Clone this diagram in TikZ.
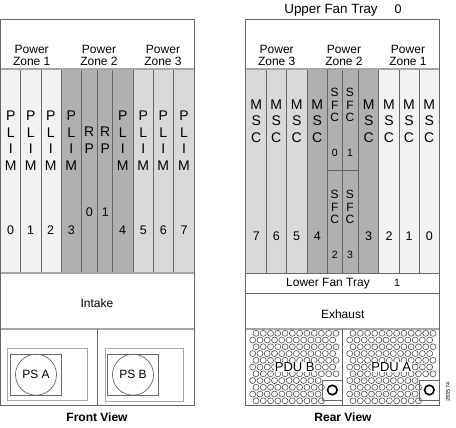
\documentclass[tikz,border=0pt]{standalone}
\usepackage{fontspec}
\setmainfont{Liberation Sans}
\definecolor{zonelight}{gray}{0.95}
\definecolor{zonemid}{gray}{0.85}
\definecolor{zonedark}{gray}{0.69}
\definecolor{linegray}{gray}{0.40}
\tikzset{
  slot/.style={draw=linegray,line width=0.7pt},
  frame/.style={draw=linegray,line width=0.8pt},
  band/.style={draw=gray!70,line width=1.1pt},
  cardtext/.style={font=\fontsize{14}{16.5}\selectfont,align=center,inner sep=0pt},
  smalltext/.style={font=\fontsize{12}{12.5}\selectfont,align=center,inner sep=0pt},
  zonetext/.style={font=\fontsize{12}{12}\selectfont,align=center,inner sep=0pt},
  numtext/.style={font=\fontsize{12.5}{13}\selectfont,inner sep=0pt,text height=9pt,text depth=0pt},
  tinynum/.style={font=\fontsize{10.5}{11}\selectfont,inner sep=0pt,text height=7.5pt,text depth=0pt},
  viewtext/.style={font=\fontsize{12}{13}\selectfont\bfseries,inner sep=0pt},
  pdutext/.style={font=\fontsize{13}{14}\selectfont,fill=white,inner sep=0.5pt},
  ventring/.style={draw=black!70,line width=0.6pt}
}
\begin{document}
\begin{tikzpicture}[x=1pt,y=-1pt]
\useasboundingbox (0,0) rectangle (456,428);
% front view slots
\foreach \xa/\xb/\shade in {0.5/20.5/zonelight,20.5/41/zonelight,41/61.5/zonelight,
  61.5/81.5/zonedark,81.5/97.5/zonedark,97.5/112.5/zonedark,112.5/133/zonedark,
  133/153.5/zonemid,153.5/173.5/zonemid,173.5/194/zonemid}
  \draw[slot,fill=\shade] (\xa,69) rectangle (\xb,273);
\draw[frame] (0.5,19) rectangle (194,405);
\draw[band] (0.5,69) -- (194,69);
\draw[band] (0.5,273) -- (194,273);
\draw[band] (0.5,329) -- (194,329);
\draw[frame] (97.5,329) -- (97.5,405);
\node[zonetext] (fzone1) at (31.7,55) {Power\\Zone 1};
\node[zonetext] (fzone2) at (99,55) {Power\\Zone 2};
\node[zonetext] (fzone3) at (163,55) {Power\\Zone 3};
\foreach \x/\n/\num in {10.7/a/0,30.7/b/1,50.7/c/2,71.3/d/3,122.7/e/4,143.3/f/5,163.3/g/6,184/h/7}{
  \node[cardtext] (plim\n) at (\x,140.5) {P\\L\\I\\M};
  \node[numtext] (plimnum\n) at (\x,229.7) {\num};
}
\node[cardtext] (rpa) at (89.3,140) {R\\P};
\node[cardtext] (rpb) at (105.3,140) {R\\P};
\node[numtext] (rpnuma) at (89.3,212) {0};
\node[numtext] (rpnumb) at (105.3,212) {1};
\node[zonetext] (intake) at (97,303) {Intake};
% power supplies
\draw[band,line width=1pt] (7.7,348) rectangle (87,400.7);
\draw[slot] (10,354) rectangle (61.5,395);
\node[draw=linegray,circle,minimum size=41pt,inner sep=0pt,line width=0.7pt,font=\fontsize{12}{12}\selectfont] (psa) at (36,374.7) {PS A};
\draw[band,line width=1pt] (105,348.5) rectangle (183.5,401.5);
\draw[slot] (107.5,354) rectangle (158.5,395);
\node[draw=linegray,circle,minimum size=41pt,inner sep=0pt,line width=0.7pt,font=\fontsize{12}{12}\selectfont] (psb) at (133,374.7) {PS B};
\node[viewtext] (frontview) at (97,417.7) {Front View};
% rear view slots
\foreach \xa/\xb/\shade in {245.7/266.7/zonemid,266.7/286.7/zonemid,286.7/307.3/zonemid,
  307.3/327.7/zonedark,327.7/342.7/zonedark,342.7/358.7/zonedark,358.7/378.7/zonedark,
  378.7/399.7/zonelight,399.7/419.7/zonelight,419.7/439.3/zonelight}
  \draw[slot,fill=\shade] (\xa,69) rectangle (\xb,273.3);
\draw[frame] (245.7,19) rectangle (439.3,405);
\draw[band] (245.7,69) -- (439.3,69);
\draw[slot,line width=1pt] (327.7,171) -- (358.7,171);
\draw[band,draw=linegray] (245.7,273.3) -- (439.3,273.3);
\draw[frame] (245.7,293.3) -- (439.3,293.3);
\draw[band] (245.7,329) -- (439.3,329);
\draw[frame] (342.7,329) -- (342.7,405);
\node[font=\fontsize{13.4}{14}\selectfont,inner sep=0pt] (upperfan) at (331,10) {Upper Fan Tray};
\node[numtext] (uppernum) at (398,9) {0};
\node[zonetext] (rzone3) at (276.7,55) {Power\\Zone 3};
\node[zonetext] (rzone2) at (344,55) {Power\\Zone 2};
\node[zonetext] (rzone1) at (408,55) {Power\\Zone 1};
\foreach \x/\n/\num in {256.3/a/7,276.3/b/6,296.7/c/5,317.3/d/4,368.7/e/3,389/f/2,409/g/1,429.3/h/0}{
  \node[cardtext] (msc\n) at (\x,121) {M\\S\\C};
  \node[numtext] (mscnum\n) at (\x,235.7) {\num};
}
\node[smalltext] (sfca) at (334.7,105) {S\\F\\C};
\node[smalltext] (sfcb) at (350,105) {S\\F\\C};
\node[smalltext] (sfcc) at (334.7,207) {S\\F\\C};
\node[smalltext] (sfcd) at (350,207) {S\\F\\C};
\node[tinynum] (sfcnuma) at (334.7,153) {0};
\node[tinynum] (sfcnumb) at (350,153) {1};
\node[tinynum] (sfcnumc) at (334.7,254.7) {2};
\node[tinynum] (sfcnumd) at (350,254.7) {3};
\node[zonetext] (lowerfan) at (328,284) {Lower Fan Tray};
\node[tinynum] (lowernum) at (397,283) {1};
\node[zonetext] (exhaust) at (342.7,314) {Exhaust};
% PDU vents
\foreach \off in {0,97}{
  \foreach \row in {0,...,10}{
    \pgfmathsetmacro{\rowx}{mod(\row,2)==0 ? 256 : 252.7}
    \pgfmathtruncatemacro{\last}{\row>6 ? 9 : 11}
    \foreach \col in {0,...,\last}
      \draw[ventring] (\off+\rowx+\col*7.27,333.3+\row*6.75) circle (3);
  }
  \draw[slot] (\off+322.3,380) -- (\off+342.7,380) -- (\off+342.7,400.7) -- (\off+322.3,400.7) -- cycle;
  \draw[black,line width=1.6pt] (\off+332.3,390) circle (4.8);
}
\node[pdutext] (pdub) at (294.7,366.7) {PDU B};
\node[pdutext] (pdua) at (391.3,366.7) {PDU A};
\node[viewtext] (rearview) at (343,417.7) {Rear View};
\node[rotate=90,inner sep=0pt,font=\fontsize{5.5}{6}\selectfont] (artnum) at (448,392) {283574};
\end{tikzpicture}
\end{document}
